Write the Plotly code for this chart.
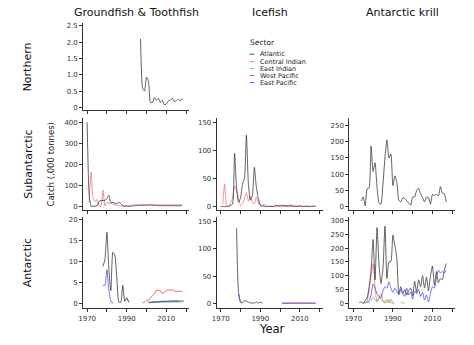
import plotly.graph_objects as go

W, H = 474, 345

# ---------------- data ----------------
sectors = ["Atlantic", "Central Indian", "East Indian", "West Pacific", "East Pacific"]
sector_colors = ["rgba(50,50,50,0.85)", "rgba(240,110,120,0.85)", "rgba(95,190,95,0.85)",
                 "rgba(215,55,70,0.85)", "rgba(60,60,235,0.8)"]

col_titles = ["Groundfish & Toothfish", "Icefish", "Antarctic krill"]
row_titles = ["Northern", "Subantarctic", "Antarctic"]

# Groundfish & Toothfish - Northern (Atlantic), from 1997
gf_north_atl_start = 1997
gf_north_atl = [2.1, 0.6, 0.5, 0.92, 0.8, 0.15, 0.15, 0.3, 0.22, 0.28, 0.15, 0.22,
                0.08, 0.1, 0.2, 0.22, 0.28, 0.18, 0.2, 0.25, 0.2, 0.28]

# Groundfish - Subantarctic
gf_sub_atl_start = 1970
gf_sub_atl = [400, 60, 3, 2, 3, 5, 25, 30, 30, 30, 40, 55, 20, 20, 18, 15, 22, 15, 5, 3,
              3, 2, 3, 4, 5, 6, 6, 7, 7, 8, 7, 8, 8, 8, 7, 6, 6, 5, 6, 5, 5, 5, 5, 5, 5, 5, 5, 5, 5]
gf_sub_ci_start = 1971
gf_sub_ci = [20, 165, 40, 25, 35, 5, 2, 80, 5, 20, 15, 18, 12, 10, 8, 5, 3, 3, 5, 5,
             6, 7, 8, 9, 10, 10, 11, 10, 9, 10, 11, 10, 9, 10, 10, 9, 10, 10, 9, 10, 10, 9, 9, 10, 9, 9, 10, 10]

# Groundfish - Antarctic
gf_ant_atl_start = 1978
gf_ant_atl = [8.8, 10.5, 17, 8, 3, 12.2, 11.5, 6, 0.3, 0.2, 4.3, 0.5, 1.2, 0.3,
              None, None, None, None, None, None, None, None, None,
              0.1, 0.15, 0.2, 0.25, 0.3, 0.3, 0.4, 0.4, 0.35, 0.4, 0.4, 0.5, 0.5, 0.5, 0.45, 0.5, 0.55, 0.5, 0.55]
gf_ant_ci_start = 1982
gf_ant_ci = [0.3, 0.1, None, None, None, None, None, 0.4, 1.4, 0.2]
gf_ant_ei_start = 2003
gf_ant_ei = [0.1, 0.15, 0.2, 0.2, 0.25, 0.2, 0.25, 0.3, 0.25, 0.3, 0.3, 0.25, 0.3, 0.3, 0.3, 0.3]
gf_ant_wp_start = 1998
gf_ant_wp = [0.05, 0.3, 0.75, 0.65, 1.3, 1.8, 2.2, 3.1, 3.1, 3.0, 2.3, 2.6, 2.9, 3.2, 3.1,
             3.2, 3.0, 2.8, 2.9, 2.8, 2.9]
gf_ant_ep_start = 1978
gf_ant_ep = [4.3, 4.3, 8, 3, 0.5, 0,
             None, None, None, None, None, None, None, None, None, None, None, None, None, None, None, None, None,
             0.2, 0.3, 0.35, 0.4, 0.35, 0.45, 0.4, 0.5, 0.45, 0.5, 0.5, 0.55, 0.5, 0.55, 0.6, 0.6]

# Icefish - Subantarctic
ice_sub_atl_start = 1970
ice_sub_atl = [0.5, 0.5, 0.3, 0.5, 1, 2, 5, 95, 35, 8, 15, 40, 50, 127, 40, 12, 20, 70, 35, 15,
               3, 2, 1, 0.5, 1, 1, 0.5, 1, 3, 2, 2, 3, 2, 2.5, 1.5, 3, 2, 1, 1.5, 1, 2, 1, 0.5,
               1.5, 1, 0.5, 1, 1.5, 1]
ice_sub_ci_start = 1971
ice_sub_ci = [5, 40, 2, 0, 8, 15, 37, 28, 15, 2, 5, 15, 25, 10, 18, 8, 5, 17, 8, 2, 0.5, 5, 1,
              0.5, 0.5, 0.5, 0.3, 0.5, 0.5, 0.3, 0.5, 0.5, 0.5, 0.3, 0.5, 0.5, 0.5, 0.3, 0.5,
              0.5, 0.5, 0.3, 0.5, 0.5, 0.5, 0.3, 0.5, 0.5]

# Icefish - Antarctic
ice_ant_atl_start = 1978
ice_ant_atl = [138, 20, 3, 1, 5, 4, 2, 0.5, 0.5, 0.3, 2.5, 0.3, 2, 0.2]
ice_ant_wp_start = 2001
ice_ant_wp = [0.3] * 18
ice_ant_ep_start = 1979
ice_ant_ep = [18, 2, 0.5, None, None, None, None, None, None, None, None, None, None, None, None,
              None, None, None, None, None, None, None,
              0.1, 0.1, 0.1, 0.1, 0.1, 0.1, 0.1, 0.1, 0.1, 0.1, 0.1, 0.1, 0.1, 0.1, 0.1, 0.1, 0.1, 0.1]

# Antarctic krill - Subantarctic (Atlantic)
kr_sub_atl_start = 1974
kr_sub_atl = [18, 30, 3, 55, 58, 186, 108, 135, 60, 12, 8, 70, 150, 205, 150, 162, 65, 95, 75,
              20, 15, 28, 25, 18, 12, 5, 30, 30, 50, 57, 40, 28, 15, 30, 28, 8, 38, 35, 38, 33,
              62, 42, 40, 15]

# Antarctic krill - Antarctic
kr_ant_atl_start = 1973
kr_ant_atl = [2, 5, 0, 10, 20, 60, 120, 232, 85, 275, 140, 72, 125, 280, 90, 150, 152, 248, 210,
              165, 35, 60, 35, 50, 30, 45, 55, 28, 80, 40, 85, 60, 100, 55, 95, 45, 100, 135, 65,
              115, 75, 90, 85, 120, 145]
kr_ant_ci_start = 1976
kr_ant_ci = [0, 10, 50, 100, 145, 60, 5, 15, 35, 10, 0, 15, 0, 15, 2, 0]
kr_ant_ei_start = 1977
kr_ant_ei = [0, 3, 10, 22, 12, 8, 25, 15, 5, 8, 2, 12, 2, 0, None, None, None, 1, 2, 0]
kr_ant_ep_start = 1975
kr_ant_ep = [0, 2, 5, 10, 30, 70, 55, 35, 25, 20, 45, 60, 55, 78, 55, 40, 55, 45, 30, 50, 35, 25,
             55, 30, 40, 15, 45, 35, 50, 25, 40, 12, 30, 5, 35, 60, 55, 90, 120, 110, 115, 110, 120]

# ---------------- layout geometry (pixels) ----------------
col_px = [(79, 186), (214, 321), (348, 455)]
row_px = [(22, 110), (118, 210), (217, 309)]
x_range = [1968, 2021.5]

panels = [  # (row, col, y-range, y-ticks, y-ticktext)
    (0, 0, [-0.091, 2.591], [0, 0.5, 1, 1.5, 2, 2.5], ["0", "0.5", "1.0", "1.5", "2.0", "2.5"]),
    (1, 0, [-14.1, 418.8], [0, 100, 200, 300, 400], None),
    (1, 1, [-5.3, 157], [0, 50, 100, 150], None),
    (1, 2, [-9.1, 271.3], [0, 50, 100, 150, 200, 250], None),
    (2, 0, [-1.19, 20.7], [0, 5, 10, 15, 20], None),
    (2, 1, [-9.1, 159.1], [0, 50, 100, 150], None),
    (2, 2, [-18, 314.5], [0, 50, 100, 150, 200, 250, 300], None),
]

series = [  # (panel index, sector index, start year, values)
    (0, 0, gf_north_atl_start, gf_north_atl),
    (1, 1, gf_sub_ci_start, gf_sub_ci),
    (1, 0, gf_sub_atl_start, gf_sub_atl),
    (2, 1, ice_sub_ci_start, ice_sub_ci),
    (2, 0, ice_sub_atl_start, ice_sub_atl),
    (3, 0, kr_sub_atl_start, kr_sub_atl),
    (4, 3, gf_ant_wp_start, gf_ant_wp),
    (4, 2, gf_ant_ei_start, gf_ant_ei),
    (4, 1, gf_ant_ci_start, gf_ant_ci),
    (4, 0, gf_ant_atl_start, gf_ant_atl),
    (4, 4, gf_ant_ep_start, gf_ant_ep),
    (5, 3, ice_ant_wp_start, ice_ant_wp),
    (5, 0, ice_ant_atl_start, ice_ant_atl),
    (5, 4, ice_ant_ep_start, ice_ant_ep),
    (6, 1, kr_ant_ci_start, kr_ant_ci),
    (6, 2, kr_ant_ei_start, kr_ant_ei),
    (6, 0, kr_ant_atl_start, kr_ant_atl),
    (6, 4, kr_ant_ep_start, kr_ant_ep),
]


def fx(px):
    return px / W


def fy(py):
    return 1 - py / H


FONT = "DejaVu Sans"
AX = "#333333"

fig = go.Figure()
layout = dict(
    width=W, height=H, margin=dict(l=0, r=0, t=0, b=0),
    paper_bgcolor="white", plot_bgcolor="white", showlegend=False,
    font=dict(family=FONT, color="#222222"),
)

xt_vals = [1970, 1980, 1990, 2000, 2010, 2020]
for i, (r, c, yr, yt, ytt) in enumerate(panels):
    n = "" if i == 0 else str(i + 1)
    x0, x1 = col_px[c]
    y0, y1 = row_px[r]
    bottom = (r == 2)
    layout["xaxis" + n] = dict(
        domain=[fx(x0), fx(x1)], range=x_range, anchor="y" + n,
        showline=True, linecolor=AX, linewidth=1, ticks="outside", ticklen=3, tickcolor=AX,
        tickvals=xt_vals,
        ticktext=[(str(v) if (bottom and v in (1970, 1990, 2010)) else "") for v in xt_vals],
        tickfont=dict(size=7, color="#333333", family=FONT),
        showgrid=False, zeroline=False, fixedrange=True,
    )
    layout["yaxis" + n] = dict(
        domain=[fy(y1), fy(y0)], range=yr, anchor="x" + n,
        showline=True, linecolor=AX, linewidth=1, ticks="outside", ticklen=3, tickcolor=AX,
        tickvals=yt, ticktext=ytt if ytt else [str(v) for v in yt],
        tickfont=dict(size=7, color="#333333", family=FONT),
        showgrid=False, zeroline=False, fixedrange=True,
    )

for (p, s, start, vals) in series:
    n = "" if p == 0 else str(p + 1)
    years = list(range(start, start + len(vals)))
    fig.add_trace(go.Scatter(
        x=years, y=vals, mode="lines", xaxis="x" + n, yaxis="y" + n,
        line=dict(color=sector_colors[s], width=0.9, shape="spline", smoothing=0.5),
        connectgaps=False, name=sectors[s], hoverinfo="skip",
    ))

ann = []
# column titles
for c, t in enumerate(col_titles):
    x0, x1 = col_px[c]
    ann.append(dict(text=t, x=fx((x0 + x1) / 2), y=fy(12), xref="paper", yref="paper",
                    showarrow=False, font=dict(size=11, color="#111111", family=FONT),
                    xanchor="center", yanchor="middle"))
# row titles
for r, t in enumerate(row_titles):
    y0, y1 = row_px[r]
    ann.append(dict(text=t, x=fx(23), y=fy((y0 + y1) / 2), xref="paper", yref="paper",
                    showarrow=False, textangle=-90, font=dict(size=11, color="#111111", family=FONT),
                    xanchor="center", yanchor="middle"))
# axis titles
ann.append(dict(text="Catch (,000 tonnes)", x=fx(47), y=fy(165), xref="paper", yref="paper",
                showarrow=False, textangle=-90, font=dict(size=8.5, color="#222222", family=FONT),
                xanchor="center", yanchor="middle"))
ann.append(dict(text="Year", x=fx(270), y=fy(330), xref="paper", yref="paper",
                showarrow=False, font=dict(size=11.5, color="#111111", family=FONT),
                xanchor="center", yanchor="middle"))

# manual legend
shapes = []
ann.append(dict(text="Sector", x=fx(246), y=fy(42), xref="paper", yref="paper", showarrow=False,
                font=dict(size=7.5, color="#222222", family=FONT), xanchor="left", yanchor="middle"))
leg_y = [53.5, 61, 68, 75, 82]
for k, name in enumerate(sectors):
    shapes.append(dict(type="line", xref="paper", yref="paper",
                       x0=fx(247), x1=fx(252), y0=fy(leg_y[k]), y1=fy(leg_y[k]),
                       line=dict(color=sector_colors[k], width=1)))
    ann.append(dict(text=name, x=fx(256), y=fy(leg_y[k]), xref="paper", yref="paper",
                    showarrow=False, font=dict(size=6.5, color="#222222", family=FONT),
                    xanchor="left", yanchor="middle"))

layout["annotations"] = ann
layout["shapes"] = shapes
fig.update_layout(**layout)
fig.write_html("out.html")
